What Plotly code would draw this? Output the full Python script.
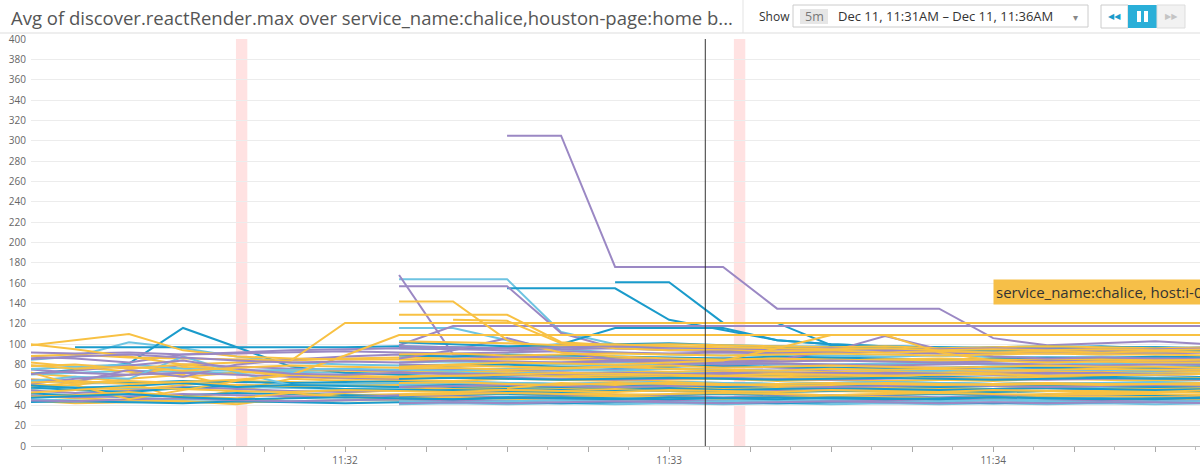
import plotly.graph_objects as go

N = None
TIMES = ["2017-12-11 11:31:00", "2017-12-11 11:31:10", "2017-12-11 11:31:20", "2017-12-11 11:31:30",
         "2017-12-11 11:31:40", "2017-12-11 11:31:50", "2017-12-11 11:32:00", "2017-12-11 11:32:10",
         "2017-12-11 11:32:20", "2017-12-11 11:32:30", "2017-12-11 11:32:40", "2017-12-11 11:32:50",
         "2017-12-11 11:33:00", "2017-12-11 11:33:10", "2017-12-11 11:33:20", "2017-12-11 11:33:30",
         "2017-12-11 11:33:40", "2017-12-11 11:33:50", "2017-12-11 11:34:00", "2017-12-11 11:34:10",
         "2017-12-11 11:34:20", "2017-12-11 11:34:30", "2017-12-11 11:34:40"]

YELLOW_SERIES = [
    [62, 58, 55, 60, 64, 63, 61, 60, 62, 61, 60, 61, 62, 60, 61, 60, 59, 60, 61, 60, 60, 61, 60],
    [45, 42, 43, 44, 43, 44, 45, 45, 44, 45, 46, 45, 44, 45, 45, 46, 45, 45, 46, 45, 45, 45, 46],
    [72, 68, 63, 45, 55, 66, 64, 62, 60, 58, 57, 58, 56, 57, 58, 57, 56, 55, 56, 57, 56, 56, 55],
    [55, 60, 66, 70, 58, 52, 50, 51, 52, 53, 52, 51, 50, 52, 51, 50, 51, 52, 50, 51, 51, 50, 51],
    [83, 78, 73, 68, 72, 75, 74, 73, 74, 73, 75, 74, 73, 74, 72, 73, 74, 73, 72, 73, 74, 73, 73],
    [50, 47, 45, 44, 41, 48, 52, 55, 57, 58, 57, 56, 58, 57, 56, 57, 58, 57, 56, 57, 56, 57, 57],
    [88, 90, 87, 86, 85, 84, 86, 87, 86, 85, 86, 87, 86, 85, 86, 86, 85, 84, 86, 85, 85, 86, 85],
    [66, 64, 70, 78, 74, 68, 66, 65, 64, 66, 65, 64, 65, 66, 64, 65, 64, 65, 64, 66, 65, 64, 65],
    [58, 62, 64, 62, 60, 59, 60, 58, 56, 55, 54, 56, 54, 52, 53, 54, 53, 52, 53, 54, 52, 53, 53],
    [98, 104, 110, 94, 88, 86, 85, 85, 84, 86, 85, 84, 85, 84, 83, 84, 85, 84, 84, 83, 84, 84, 84],
    [101, 95, 88, 80, 74, 70, 68, 67, 69, 70, 68, 67, 68, 69, 68, 67, 68, 66, 67, 68, 67, 66, 67],
    [48, 50, 53, 49, 47, 52, 48, 47, 48, 47, 48, 49, 48, 47, 48, 49, 48, 47, 48, 48, 49, 48, 48],
    [75, 60, 46, 55, 64, 70, 69, 68, 70, 71, 70, 69, 70, 71, 70, 69, 70, 71, 70, 69, 70, 70, 71],
    [N, N, N, N, N, N, N, 142, 142, 104, 92, 88, 86, 85, 86, 84, 85, 86, 85, 84, 85, 84, 85],
    [N, N, N, N, N, N, N, 129, 129, 129, 102, 99, 100, 99, 98, 97, 98, 96, 97, 98, 97, 96, 97],
    [N, N, N, N, N, N, N, N, 124, 123, 101, 96, 94, 95, 93, 94, 92, 93, 92, 93, 92, 93, 92],
    [78, 80, 76, 80, 82, 84, 121, 121, 121, 121, 121, 121, 121, 121, 121, 121, 121, 121, 121, 121, 121, 121, 121],
    [62, 64, 61, 63, 65, 70, 89, 109, 109, 109, 109, 109, 109, 109, 109, 109, 109, 109, 109, 109, 109, 109, 109],
    [N, N, N, N, N, N, N, 103, 102, 101, 99, 100, 98, 97, 96, 95, 96, 94, 95, 94, 95, 94, 95],
    [N, N, N, N, N, N, N, 78, 80, 82, 81, 80, 82, 84, 96, 109, 109, 92, 84, 82, 83, 82, 82],
    [N, N, N, N, N, N, N, 62, 63, 61, 60, 62, 61, 60, 61, 62, 61, 60, 61, 62, 61, 61, 60],
    [N, N, N, N, N, N, N, 76, 77, 75, 76, 78, 76, 75, 74, 76, 75, 76, 74, 75, 76, 75, 75],
    [N, N, N, N, N, N, N, 50, 51, 52, 51, 50, 51, 52, 51, 50, 51, 52, 51, 50, 51, 51, 50],
    [N, N, N, N, N, N, N, 90, 91, 89, 90, 91, 90, 89, 90, 91, 90, 89, 90, 91, 90, 90, 89],
    [N, N, N, N, N, N, N, 68, 69, 70, 72, 71, 70, 69, 71, 70, 69, 70, 71, 69, 70, 70, 71],
    [N, N, N, N, N, N, N, N, N, 57, 62, 60, 63, 61, 59, 60, 62, 61, 60, 61, 60, 61, 62],
    [80, 76, 78, 74, 77, 79, 78, 77, 79, 78, 77, 78, 79, 77, 78, 79, 78, 77, 78, 79, 78, 78, 77],
    [52, 55, 58, 56, 54, 53, 55, 54, 53, 55, 54, 53, 55, 54, 53, 55, 54, 53, 55, 54, 54, 53, 55],
]

PURPLE_SERIES = [
    [N, N, N, N, N, N, N, N, N, 305, 305, 176, 176, 176, 135, 135, 135, 135, 106, 99, 101, 103, 100],
    [N, N, N, N, N, N, N, 157, 157, 157, 111, 96, 94, 93, 92, 93, 92, 91, 92, 91, 92, 91, 92],
    [N, N, N, N, N, N, N, 168, 90, 88, 87, 86, 85, 86, 85, 86, 85, 84, 85, 84, 85, 85, 84],
    [N, N, N, N, N, N, N, 99, 118, 118, 118, 118, 118, 118, 118, 118, 118, 118, 118, 118, 118, 118, 118],
    [88, 86, 82, 90, 92, 94, 95, 96, 95, 94, 95, 96, 95, 94, 95, 96, 95, 94, 95, 96, 95, 95, 96],
    [76, 72, 70, 80, 78, 76, 75, 74, 76, 75, 74, 75, 76, 75, 74, 75, 76, 75, 74, 75, 75, 74, 75],
    [55, 52, 54, 58, 56, 54, 53, 55, 54, 53, 54, 55, 54, 53, 54, 55, 54, 53, 54, 54, 55, 54, 53],
    [45, 44, 46, 47, 45, 44, 45, 46, 45, 44, 45, 46, 45, 44, 45, 44, 45, 46, 45, 44, 45, 45, 44],
    [65, 63, 75, 68, 80, 85, 88, 90, 88, 87, 86, 85, 80, 78, 77, 76, 78, 77, 76, 77, 78, 77, 76],
    [60, 66, 70, 72, 70, 68, 67, 66, 68, 67, 66, 65, 66, 67, 66, 65, 66, 67, 66, 65, 66, 66, 65],
    [92, 91, 92, 90, 91, 92, 93, 92, 91, 92, 93, 92, 91, 92, 91, 92, 93, 92, 91, 92, 92, 91, 92],
    [50, 48, 49, 51, 50, 49, 48, 50, 49, 48, 49, 50, 49, 48, 49, 50, 49, 48, 49, 50, 49, 48, 49],
    [N, N, N, N, N, N, N, 80, 79, 81, 82, 84, 86, 83, 85, 93, 108, 95, 88, 86, 87, 86, 86],
    [N, N, N, N, N, N, N, 86, 94, 106, 92, 85, 82, 80, 81, 80, 79, 80, 81, 80, 79, 80, 80],
    [N, N, N, N, N, N, N, 72, 71, 70, 71, 72, 71, 70, 71, 72, 71, 70, 71, 72, 71, 70, 71],
    [N, N, N, N, N, N, N, 58, 59, 60, 59, 58, 59, 60, 59, 58, 59, 60, 59, 58, 59, 60, 59],
    [N, N, N, N, N, N, N, 98, 97, 96, 97, 98, 97, 96, 95, 96, 94, 95, 96, 95, 94, 95, 96],
    [N, N, N, N, N, N, N, 42, 43, 42, 43, 44, 43, 42, 43, 44, 43, 42, 43, 42, 43, 43, 42],
    [70, 74, 79, 84, 76, 71, 70, 72, 71, 70, 72, 71, 70, 72, 71, 70, 72, 71, 70, 71, 72, 70, 71],
    [85, 88, 90, 87, 84, 82, 83, 82, 84, 83, 82, 83, 84, 82, 83, 84, 83, 82, 83, 84, 83, 82, 83],
]

BLUE_SERIES = [
    [N, N, N, N, N, N, N, N, N, N, N, 161, 161, 121, 121, 99, 97, 96, 95, 96, 95, 96, 95],
    [N, N, N, N, N, N, N, N, N, 155, 155, 155, 124, 114, 104, 100, 98, 97, 96, 97, 96, 97, 96],
    [N, N, N, N, N, N, N, 96, 95, 97, 100, 116, 116, 116, 104, 100, 98, 97, 96, 97, 98, 96, 97],
    [70, 75, 81, 116, 97, 78, 72, 70, 68, 69, 70, 68, 67, 68, 69, 68, 67, 68, 67, 68, 68, 67, 68],
    [N, 97, 97, 97, 97, 97, 97, 98, 97, 96, 97, 98, 97, 96, 97, 98, 97, 96, 97, 98, 97, 97, 96],
    [52, 50, 48, 50, 52, 51, 50, 49, 50, 51, 50, 49, 50, 51, 50, 49, 50, 51, 50, 49, 50, 50, 49],
    [65, 63, 62, 64, 63, 62, 63, 64, 63, 62, 61, 62, 63, 62, 61, 62, 63, 62, 61, 62, 62, 61, 62],
    [43, 44, 43, 42, 44, 43, 42, 43, 44, 43, 42, 43, 44, 43, 42, 43, 44, 43, 42, 43, 43, 44, 43],
    [58, 55, 53, 57, 60, 58, 56, 55, 57, 56, 55, 56, 57, 55, 56, 57, 56, 55, 56, 57, 56, 55, 56],
    [N, N, N, N, N, N, N, 89, 88, 90, 89, 88, 87, 86, 88, 87, 86, 85, 86, 87, 86, 88, 87],
    [N, N, N, N, N, N, N, 54, 55, 54, 53, 54, 55, 54, 53, 54, 55, 54, 53, 54, 55, 54, 54],
    [N, N, N, N, N, N, N, 66, 67, 66, 65, 66, 67, 66, 65, 66, 67, 66, 65, 66, 67, 66, 66],
    [N, N, N, N, N, N, N, 47, 46, 47, 48, 47, 46, 47, 48, 47, 46, 47, 48, 47, 46, 47, 47],
    [N, N, N, N, N, N, N, 78, 79, 80, 78, 77, 78, 79, 78, 77, 76, 77, 78, 77, 76, 77, 78],
    [N, N, N, N, N, N, N, 102, 100, 98, 99, 100, 101, 99, 98, 97, 96, 95, 94, 95, 94, 93, 94],
    [60, 57, 59, 62, 58, 60, 59, 58, 60, 59, 58, 59, 60, 58, 59, 60, 59, 58, 59, 60, 59, 58, 59],
    [47, 49, 51, 48, 46, 47, 48, 47, 46, 48, 47, 46, 48, 47, 46, 48, 47, 46, 48, 47, 47, 46, 48],
]

LIGHTBLUE_SERIES = [
    [N, N, N, N, N, N, N, 164, 164, 164, 112, 100, 98, 96, 95, 94, 95, 94, 93, 94, 93, 94, 93],
    [N, N, N, N, N, N, N, 116, 116, 104, 95, 92, 90, 89, 90, 89, 88, 89, 88, 87, 88, 87, 88],
    [84, 88, 102, 96, 88, 82, 80, 79, 80, 81, 80, 79, 80, 81, 80, 79, 80, 81, 80, 79, 80, 80, 79],
    [70, 72, 74, 73, 72, 73, 72, 71, 72, 73, 72, 71, 72, 73, 72, 71, 72, 73, 72, 71, 72, 72, 71],
    [56, 58, 57, 56, 58, 57, 56, 57, 58, 57, 56, 57, 58, 57, 56, 57, 58, 57, 56, 57, 57, 58, 57],
    [46, 45, 44, 46, 45, 44, 45, 46, 45, 44, 45, 46, 45, 44, 45, 46, 45, 44, 45, 46, 45, 45, 44],
    [N, N, N, N, N, N, N, 41, 42, 41, 42, 41, 42, 41, 42, 41, 42, 41, 42, 41, 42, 41, 42],
    [N, N, N, N, N, N, N, 82, 83, 82, 81, 82, 83, 82, 81, 80, 81, 82, 81, 80, 81, 82, 81],
    [N, N, N, N, N, N, N, 60, 61, 62, 61, 60, 61, 62, 61, 60, 61, 62, 61, 60, 61, 62, 61],
    [63, 68, 66, 88, 72, 60, 61, 62, 63, 62, 61, 62, 63, 62, 61, 62, 63, 62, 61, 62, 62, 63, 62],
    [75, 78, 80, 76, 74, 75, 76, 75, 74, 76, 75, 74, 76, 75, 74, 76, 75, 74, 76, 75, 75, 74, 76],
    [N, N, N, N, N, N, N, 44, 43, 44, 45, 44, 43, 44, 45, 44, 43, 44, 45, 44, 43, 44, 44],
]

X_TICKVALS = ["2017-12-11 11:31:15", "2017-12-11 11:31:30", "2017-12-11 11:31:45", "2017-12-11 11:32:00",
              "2017-12-11 11:32:15", "2017-12-11 11:32:30", "2017-12-11 11:32:45", "2017-12-11 11:33:00",
              "2017-12-11 11:33:15", "2017-12-11 11:33:30", "2017-12-11 11:33:45", "2017-12-11 11:34:00",
              "2017-12-11 11:34:15", "2017-12-11 11:34:30"]
X_TICKTEXT = ["", "", "", "11:32", "", "", "", "11:33", "", "", "", "11:34", "", ""]
X_MINOR = ["2017-12-11 11:31:07.5", "2017-12-11 11:31:22.5", "2017-12-11 11:31:37.5", "2017-12-11 11:31:52.5",
           "2017-12-11 11:32:07.5", "2017-12-11 11:32:22.5", "2017-12-11 11:32:37.5", "2017-12-11 11:32:52.5",
           "2017-12-11 11:33:07.5", "2017-12-11 11:33:22.5", "2017-12-11 11:33:37.5", "2017-12-11 11:33:52.5",
           "2017-12-11 11:34:07.5", "2017-12-11 11:34:22.5", "2017-12-11 11:34:37.5"]

C_YELLOW = "#F8C143"
C_PURPLE = "#9B88C4"
C_BLUE = "#1A9BCB"
C_LIGHT = "#6EC4E2"

fig = go.Figure()
groups = [(LIGHTBLUE_SERIES, C_LIGHT), (BLUE_SERIES, C_BLUE), (PURPLE_SERIES, C_PURPLE), (YELLOW_SERIES, C_YELLOW)]
maxlen = max(len(g[0]) for g in groups)
for i in range(maxlen):
    for series, col in groups:
        if i < len(series):
            fig.add_trace(go.Scatter(x=TIMES, y=series[i], mode="lines",
                                     line=dict(color=col, width=2), connectgaps=False,
                                     hoverinfo="skip", showlegend=False))

W, H = 1200, 469
ML, MR, MT, MB = 31, 0, 39, 23
PW, PH = W - ML - MR, H - MT - MB


def px(x):
    return (x - ML) / PW


def py(y):
    return (H - MB - y) / PH


shapes = [
    dict(type="rect", xref="x", yref="paper", x0="2017-12-11 11:31:39.8", x1="2017-12-11 11:31:41.9",
         y0=0, y1=1, fillcolor="rgba(255,190,190,0.45)", line=dict(width=0), layer="below"),
    dict(type="rect", xref="x", yref="paper", x0="2017-12-11 11:33:12.0", x1="2017-12-11 11:33:14.1",
         y0=0, y1=1, fillcolor="rgba(255,190,190,0.45)", line=dict(width=0), layer="below"),
    dict(type="line", xref="x", yref="paper", x0="2017-12-11 11:33:06.7", x1="2017-12-11 11:33:06.7",
         y0=0, y1=1, line=dict(color="#333333", width=1)),
    # header
    dict(type="line", xref="paper", yref="paper", x0=px(0), x1=px(1200), y0=py(33), y1=py(33),
         line=dict(color="#dddddd", width=1)),
    dict(type="line", xref="paper", yref="paper", x0=px(743), x1=px(743), y0=py(0), y1=py(33),
         line=dict(color="#e3e3e3", width=1)),
    dict(type="rect", xref="paper", yref="paper", x0=px(793), x1=px(1088), y0=py(27), y1=py(5),
         line=dict(color="#cccccc", width=1), fillcolor="#ffffff"),
    dict(type="rect", xref="paper", yref="paper", x0=px(800), x1=px(828), y0=py(24), y1=py(9),
         line=dict(width=0), fillcolor="#e6e6e6"),
    dict(type="rect", xref="paper", yref="paper", x0=px(1101), x1=px(1128), y0=py(28), y1=py(5),
         line=dict(color="#cccccc", width=1), fillcolor="#ffffff"),
    dict(type="rect", xref="paper", yref="paper", x0=px(1128), x1=px(1157), y0=py(28), y1=py(5),
         line=dict(width=0), fillcolor="#2AAFD8"),
    dict(type="rect", xref="paper", yref="paper", x0=px(1157), x1=px(1185), y0=py(28), y1=py(5),
         line=dict(color="#dddddd", width=1), fillcolor="#f2f2f2"),
    dict(type="rect", xref="paper", yref="paper", x0=px(1137), x1=px(1141), y0=py(22), y1=py(11),
         line=dict(width=0), fillcolor="#ffffff"),
    dict(type="rect", xref="paper", yref="paper", x0=px(1144), x1=px(1148), y0=py(22), y1=py(11),
         line=dict(width=0), fillcolor="#ffffff"),
]

annotations = [
    dict(xref="paper", yref="paper", x=px(9), y=py(17), xanchor="left", yanchor="middle", showarrow=False,
         text="Avg of discover.reactRender.max over service_name:chalice,houston-page:home b...",
         font=dict(family="Open Sans", size=18.5, color="#555555")),
    dict(xref="paper", yref="paper", x=px(757), y=py(16), xanchor="left", yanchor="middle", showarrow=False,
         text="Show", font=dict(family="Open Sans", size=12, color="#333333")),
    dict(xref="paper", yref="paper", x=px(814), y=py(16), xanchor="center", yanchor="middle", showarrow=False,
         text="5m", font=dict(family="Open Sans", size=12.5, color="#777777")),
    dict(xref="paper", yref="paper", x=px(836), y=py(16), xanchor="left", yanchor="middle", showarrow=False,
         text="Dec 11, 11:31AM – Dec 11, 11:36AM", font=dict(family="Open Sans", size=13, color="#333333")),
    dict(xref="paper", yref="paper", x=px(1075), y=py(17), xanchor="center", yanchor="middle", showarrow=False,
         text="▾", font=dict(family="DejaVu Sans", size=10, color="#888888")),
    dict(xref="paper", yref="paper", x=px(1114), y=py(16), xanchor="center", yanchor="middle", showarrow=False,
         text="◀◀", font=dict(family="DejaVu Sans", size=8, color="#1A9BCB")),
    dict(xref="paper", yref="paper", x=px(1171), y=py(16), xanchor="center", yanchor="middle", showarrow=False,
         text="▶▶", font=dict(family="DejaVu Sans", size=8, color="#c4c4c4")),
    dict(xref="paper", yref="paper", x=px(993), y=py(292), xanchor="left", yanchor="middle", showarrow=False,
         text="service_name:chalice, host:i-0", bgcolor="#F6BF48", borderpad=2,
         font=dict(family="Open Sans", size=15, color="#333333")),
]

fig.update_layout(
    width=W, height=H,
    margin=dict(l=ML, r=MR, t=MT, b=MB, autoexpand=False),
    paper_bgcolor="white", plot_bgcolor="white",
    shapes=shapes, annotations=annotations,
    showlegend=False,
    xaxis=dict(type="date", range=["2017-12-11 11:31:01.85", "2017-12-11 11:34:38.3"],
               tickmode="array", tickvals=X_TICKVALS, ticktext=X_TICKTEXT,
               ticks="outside", ticklen=5, tickcolor="#aaaaaa", showgrid=False,
               showline=True, linecolor="#bbbbbb", linewidth=1, zeroline=False, automargin=False,
               tickfont=dict(family="Open Sans", size=10, color="#666666"),
               minor=dict(tickvals=X_MINOR, ticks="outside", ticklen=3, tickcolor="#bbbbbb", showgrid=False),
               fixedrange=True),
    yaxis=dict(range=[0, 400], dtick=20, tick0=0, showgrid=True, gridcolor="#ececec", gridwidth=1,
               zeroline=False, showline=False, ticks="", ticklabelstandoff=4, automargin=False,
               tickfont=dict(family="Open Sans", size=10, color="#666666"), fixedrange=True),
)

fig.write_html("out.html", config={"displayModeBar": False},
               post_script="document.body.style.margin='0';document.body.style.overflow='hidden';")
